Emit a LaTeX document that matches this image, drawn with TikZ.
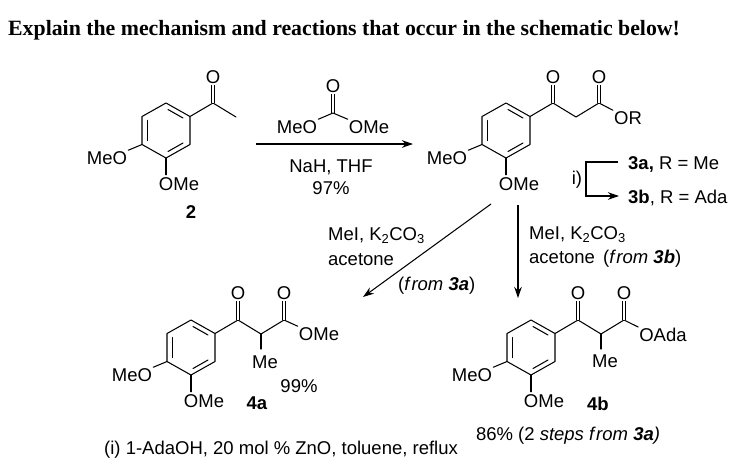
\documentclass[tikz,border=0pt]{standalone}
\usepackage{fontspec}
\setmainfont{Liberation Sans}
\newfontfamily\titlefont{Liberation Serif}
\usetikzlibrary{arrows.meta}

\tikzset{
	bond/.style={line width=1.05pt, line cap=round, line join=round},
	dbond/.style={line width=1.05pt, double, double distance=2.1pt},
	rxnarrow/.style={line width=1.05pt, -{Stealth[length=11pt,width=7.5pt]}},
	atom/.style={inner sep=1pt, font=\fontsize{18.5}{22}\selectfont},
	lab/.style={inner sep=0pt, font=\fontsize{18.5}{22}\selectfont}
}

% dimethoxyphenyl ring with its two OMe groups
\newcommand{\anisylring}[2]{
\begin{scope}[shift={#2}, name prefix=#1-]
	\coordinate (top) at (0,-27.5);
	\coordinate (ur) at (24,-14);
	\coordinate (lr) at (24,14);
	\coordinate (bot) at (0,27.5);
	\coordinate (ll) at (-24,14);
	\coordinate (ul) at (-24,-14);
	\draw[bond] (top) -- (ur) -- (lr) -- (bot) -- (ll) -- (ul) -- cycle;
	\draw[bond] (-18.5,-10) -- (-18.5,10);
	\draw[bond] (2,-21) -- (17,-12.5);
	\draw[bond] (2,21) -- (17,12.5);
	\node[atom] (meo) at (-59,27.5) {MeO};
	\node[atom] (ome) at (13,54) {OMe};
	\draw[bond] (ll) -- (meo.north east);
	\draw[bond, shorten >=2pt] (bot) -- (bot |- ome.north);
\end{scope}
}

\begin{document}
\begin{tikzpicture}[x=1pt, y=-1pt]
\useasboundingbox (0,0) rectangle (744,475);

% heading
\node[inner sep=0pt, anchor=west, font=\titlefont\bfseries\fontsize{21.8}{26}\selectfont] (heading) at (8,30)
	{Explain the mechanism and reactions that occur in the schematic below!};

% compound 2
\anisylring{two}{(166,130.5)}
\coordinate (c2a) at (213,103);
\coordinate (c2b) at (236,117);
\node[atom] (o2) at (213,77) {O};
\draw[bond] (two-ur) -- (c2a) -- (c2b);
\draw[dbond] (c2a) -- (o2);
\node[lab] (name2) at (191,212) {\textbf{2}};

% carbonate and first arrow
\coordinate (cc) at (333,113);
\node[atom] (occ) at (333,86) {O};
\node[atom] (meocc) at (297,127) {MeO};
\node[atom] (omecc) at (369,127) {OMe};
\draw[dbond] (cc) -- (occ);
\draw[bond] (meocc.north east) -- (cc) -- (omecc.north west);
\coordinate (a1s) at (256,144);
\coordinate (a1e) at (413,144);
\draw[rxnarrow] (a1s) -- (a1e);
\node[lab] (nah) at (331,167) {NaH, THF};
\node[lab] (y97) at (331,188) {97\%};

% compound 3
\anisylring{three}{(506,130.5)}
\coordinate (c3a) at (553,103);
\coordinate (c3b) at (576,117);
\coordinate (c3c) at (599,103);
\node[atom] (o3a) at (553,77) {O};
\node[atom] (o3c) at (599,77) {O};
\node[atom] (or3) at (628,118) {OR};
\draw[bond] (three-ur) -- (c3a) -- (c3b) -- (c3c) -- (or3.north west);
\draw[dbond] (c3a) -- (o3a);
\draw[dbond] (c3c) -- (o3c);

% step i)
\coordinate (bs) at (618,162);
\coordinate (bc1) at (586,162);
\coordinate (bc2) at (586,196);
\coordinate (be) at (619,196);
\draw[rxnarrow] (bs) -- (bc1) -- (bc2) -- (be);
\node[lab] (stepi) at (577,180) {i)};
\node[lab, anchor=west] (r3a) at (628,164) {\textbf{3a,} R = Me};
\node[lab, anchor=west] (r3b) at (628,198) {\textbf{3b}, R = Ada};

% arrows down
\coordinate (a2s) at (491,204);
\coordinate (a2e) at (363,297);
\draw[rxnarrow] (a2s) -- (a2e);
\coordinate (a3s) at (518,205);
\coordinate (a3e) at (518,298);
\draw[rxnarrow] (a3s) -- (a3e);
\node[lab, anchor=west] (mei1) at (328,236) {MeI, K\textsubscript{2}CO\textsubscript{3}};
\node[lab, anchor=west] (ace1) at (328,260) {acetone};
\node[lab, anchor=west] (from1) at (398,286) {(\textit{f\kern2pt rom \textbf{3a}})};
\node[lab, anchor=west] (mei2) at (529,235) {MeI, K\textsubscript{2}CO\textsubscript{3}};
\node[lab, anchor=west] (ace2) at (529,259) {acetone\kern3pt{} (\textit{f\kern2pt rom \textbf{3b}})};

% compound 4a
\anisylring{foura}{(191,347.5)}
\coordinate (c4a) at (238,320);
\coordinate (c4b) at (261,334);
\coordinate (c4c) at (284,320);
\coordinate (c4d) at (261,349);
\node[atom] (o4a) at (238,293) {O};
\node[atom] (o4c) at (284,293) {O};
\node[atom] (ome4) at (319,334) {OMe};
\node[atom] (me4) at (265,362) {Me};
\draw[bond] (foura-ur) -- (c4a) -- (c4b) -- (c4c) -- (ome4.north west);
\draw[bond] (c4b) -- (c4d);
\draw[dbond] (c4a) -- (o4a);
\draw[dbond] (c4c) -- (o4c);
\node[lab] (y99) at (299,386) {99\%};
\node[lab] (name4a) at (257,403) {\textbf{4a}};

% compound 4b
\anisylring{fourb}{(531,347.5)}
\coordinate (c5a) at (578,320);
\coordinate (c5b) at (601,334);
\coordinate (c5c) at (624,320);
\coordinate (c5d) at (601,349);
\node[atom] (o5a) at (578,293) {O};
\node[atom] (o5c) at (624,293) {O};
\node[atom] (oada) at (663,335) {OAda};
\node[atom] (me5) at (605,361) {Me};
\draw[bond] (fourb-ur) -- (c5a) -- (c5b) -- (c5c) -- (oada.north west);
\draw[bond] (c5b) -- (c5d);
\draw[dbond] (c5a) -- (o5a);
\draw[dbond] (c5c) -- (o5c);
\node[lab] (name4b) at (598,404) {\textbf{4b}};
\node[lab] (y86) at (568,436) {86\% (2 \textit{steps f\kern2pt rom \textbf{3a})}};

% footnote
\node[lab, anchor=west] (note) at (104,450) {(i) 1-AdaOH, 20 mol \% ZnO, toluene, reflux};

\end{tikzpicture}
\end{document}
